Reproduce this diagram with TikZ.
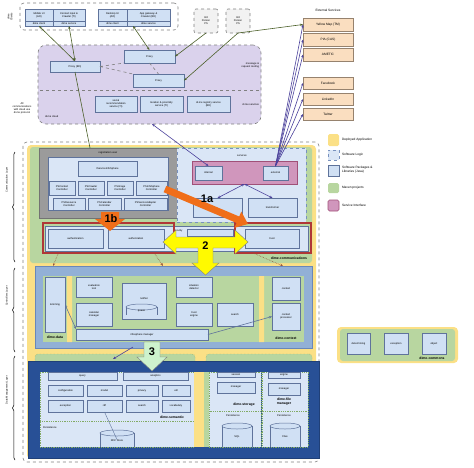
\documentclass[tikz,border=0pt]{standalone}
\usepackage{fontspec}
\setmainfont{Liberation Sans}
\usetikzlibrary{arrows.meta,decorations.pathreplacing}
\definecolor{pkgf}{RGB}{208,224,244}
\definecolor{pkgd}{RGB}{95,115,155}
\definecolor{logf}{RGB}{218,230,246}
\definecolor{logd}{RGB}{120,145,190}
\definecolor{depf}{RGB}{251,224,134}
\definecolor{mavf}{RGB}{184,214,160}
\definecolor{mavd}{RGB}{130,170,100}
\definecolor{iff}{RGB}{208,150,188}
\definecolor{ifd}{RGB}{160,80,120}
\definecolor{cloudf}{RGB}{218,210,236}
\definecolor{extf}{RGB}{250,222,192}
\definecolor{extd}{RGB}{150,130,110}
\definecolor{redd}{RGB}{175,55,55}
\definecolor{grayf}{RGB}{155,155,155}
\definecolor{grayd}{RGB}{115,115,115}
\definecolor{ctrlf}{RGB}{146,176,214}
\definecolor{ctrld}{RGB}{105,135,185}
\definecolor{dataf}{RGB}{40,80,150}
\definecolor{orng}{RGB}{240,110,25}
\definecolor{yarr}{RGB}{255,250,0}
\definecolor{garrf}{RGB}{205,242,205}
\definecolor{gline}{RGB}{75,95,40}
\definecolor{pline}{RGB}{75,65,155}
\definecolor{dotl}{RGB}{150,85,60}
\newcommand\ft{\fontsize{2.6}{3.0}\selectfont}
\newcommand\ftl{\fontsize{3.2}{3.7}\selectfont}
\newcommand\ftb{\fontsize{3.4}{3.8}\selectfont\bfseries}
\newcommand\ftbig{\fontsize{11}{11}\selectfont\bfseries}
\newcommand\bx[7][]{\node[#1,minimum width={(#5-#3)*1pt},minimum height={(#6-#4)*1pt}] (#2) at ({(#3+#5)/2},{(#4+#6)/2}) {#7};}
\newcommand\cyl[6]{%
 \fill[pkgf] (#2,{#3+3}) rectangle (#4,#5);
 \draw[pkgd,line width=0.5pt] (#2,{#3+3}) -- (#2,#5) (#4,{#3+3}) -- (#4,#5);
 \draw[pkgd,fill=pkgf,line width=0.5pt] ({(#2+#4)/2},{#3+3}) ellipse [x radius={(#4-#2)/2}, y radius=3];
 \node (#1) at ({(#2+#4)/2},{(#3+#5)/2+2}) {#6};}
\begin{document}
\begin{tikzpicture}[x=1pt,y=-1pt,
 every node/.style={inner sep=0pt,outer sep=0pt,font=\ft,align=center},
 pkg/.style={draw=pkgd,fill=pkgf,line width=0.5pt},
 logic/.style={draw=logd,fill=logf,dashed,line width=0.5pt},
 logicg/.style={draw=mavd,fill=logf,densely dotted,line width=0.8pt},
 deploy/.style={fill=depf,rounded corners=4pt},
 maven/.style={fill=mavf,rounded corners=3pt},
 iface/.style={draw=ifd,fill=iff,line width=0.6pt},
 dashbox/.style={draw=gray,dashed,line width=0.6pt,rounded corners=4pt},
 extbox/.style={draw=extd,fill=extf,line width=0.6pt,font=\ftl},
 redfr/.style={draw=redd,line width=2.4pt},
 garr/.style={draw=gline,line width=0.6pt},
 parr/.style={draw=pline,line width=0.6pt},
 tip/.style={-{Stealth[length=3pt,width=2.4pt]}},
 btip/.style={{Stealth[length=3pt,width=2.4pt]}-{Stealth[length=3pt,width=2.4pt]}},
 leg/.style={font=\ftl,anchor=west,align=left},
 mlbl/.style={font=\ftb},
 big/.style={font=\ftbig}
]
\useasboundingbox (0,0) rectangle (474,467);
% ---------- clients ----------
\bx[dashbox,fill=white]{clients}{20}{3}{178}{30}{}
\node[rotate=90] (clientslbl) at (10,17) {dime\\Clients};
\bx[pkg]{mob}{25}{9}{53}{21}{Mobile UI\\(AO)}
\bx[pkg]{ctx}{53}{9}{85}{21}{Context input \&\\Crawler (TI)}
\bx[pkg]{dc1}{25}{21}{53}{26}{dime client}
\bx[pkg]{ds1}{53}{21}{85}{26}{dime service}
\bx[pkg]{desk}{98}{9}{127}{21}{Desktop UI\\(AO)}
\bx[pkg]{gw}{127}{9}{170}{21}{App gateway \&\\Crawler (BD)}
\bx[pkg]{dc2}{98}{21}{127}{26}{dime client}
\bx[pkg]{ds2}{127}{21}{170}{26}{dime service}
\bx[dashbox,fill=black!5,rounded corners=2pt]{p3a}{194}{9}{218}{33}{3rd\\Person\\PS}
\bx[dashbox,fill=black!5,rounded corners=2pt]{p3b}{226}{9}{250}{33}{3rd\\Person\\PS}
% ---------- external ----------
\node[font=\ftl] (exttitle) at (328,10) {External Services};
\bx[extbox]{ym}{303}{18}{353}{31}{Yellow Map (TM)}
\bx[extbox]{pia}{303}{33}{353}{46}{PIA (CAS)}
\bx[extbox]{ametic}{303}{48}{353}{61}{AMETIC}
\bx[extbox]{fb}{303}{77}{353}{89}{Facebook}
\bx[extbox]{li}{303}{93}{353}{105}{LinkedIn}
\bx[extbox]{tw}{303}{108}{353}{120}{Twitter}
% ---------- cloud ----------
\bx[dashbox,fill=cloudf,rounded corners=8pt]{cloud}{38}{45}{261}{124}{}
\draw[gray,dashed,line width=0.5pt] (40,90) -- (259,90);
\node[anchor=east,align=right] (routing) at (259,65) {message \&\\request routing};
\node[anchor=east] (dsvc) at (259,105) {di.me services};
\node[anchor=west] (dcloud) at (45,117) {di.me cloud};
\node (allcomm) at (22,108) {All\\communications\\with cloud use\\di.me protocol};
\bx[pkg]{pbd}{50}{61}{100}{72}{Proxy (BD)}
\bx[pkg]{ptop}{124}{50}{175}{63}{Proxy}
\bx[pkg]{plow}{133}{74}{184}{87}{Proxy}
\draw[gray,dashed,line width=0.6pt] (pbd.east) -- (ptop.south west) (pbd.east) -- (plow.north west) (ptop.south) -- (plow.north);
\bx[pkg]{soc}{95}{96}{137}{112}{social\\recommendation\\service (TI)}
\bx[pkg]{loc}{140}{96}{183}{112}{location \& proximity\\service (TI)}
\bx[pkg]{reg}{187}{96}{230}{112}{di.me registry service\\(BD)}
% ---------- main deployed area ----------
\bx[dashbox]{main}{23}{142}{319}{462}{}
\bx[deploy]{app}{27}{145}{316}{459}{}
\bx[maven]{commmvn}{30}{147}{312}{263}{}
% registration
\bx[draw=grayd,fill=grayf,line width=1pt]{regbox}{39}{148}{177}{218}{}
\node (regttl) at (108,153) {registration user};
\bx[pkg,fill=logf]{regin}{48}{157}{168}{210}{}
\bx[pkg]{isis}{78}{161}{137}{176}{IServiceInfoSphere}
\bx[pkg]{psctx}{49}{181}{75}{195}{PSContext\\Controller}
\bx[pkg]{pscr}{78}{181}{104}{195}{PSCrawler\\Controller}
\bx[pkg]{psimg}{107}{181}{133}{195}{PSImage\\Controller}
\bx[pkg]{psinf}{136}{181}{167}{195}{PSInfoSphere\\Controller}
\bx[pkg]{psres}{53}{198}{85}{210}{PSResource\\Controller}
\bx[pkg]{pscal}{88}{198}{121}{210}{PSCalendar\\Controller}
\bx[pkg]{pssa}{124}{198}{167}{210}{PSServiceAdapter\\Controller}
% services
\bx[logic]{svc}{177}{148}{306}{222}{}
\node (svcttl) at (242,156) {services};
\bx[iface]{svcif}{192}{161}{297}{184}{}
\bx[pkg]{internal}{195}{166}{222}{180}{internal}
\bx[pkg]{external}{263}{166}{288}{180}{external}
\bx[pkg]{svcl}{193}{198}{242}{217}{}
\bx[pkg]{transf}{248}{198}{297}{217}{transformer}
\draw[parr,btip] (svcif.south) -- (svcl.north);
\draw[parr,btip] (svcif.south) -- (transf.north);
% security
\bx[pkg,fill=logf]{sec}{45}{226}{308}{251}{}
\node (secttl) at (178,231) {security};
\bx[pkg]{authn}{48}{229}{103}{248}{authentication}
\bx[pkg]{authz}{108}{229}{164}{248}{authorization}
\bx[pkg]{secmid}{187}{229}{233}{236}{}
\bx[pkg]{trust}{245}{229}{299}{248}{trust}
\bx[redfr]{redl}{43}{223}{174}{253}{}
\bx[redfr]{redr}{235}{223}{311}{253}{}
\node[mlbl,anchor=east] (commlbl) at (307,258) {dime-communications};
% ---------- controllers ----------
\bx[draw=ctrld,fill=ctrlf,line width=1pt]{ctrl}{35}{266}{312}{348}{}
\bx[fill=mavf]{ctrlg}{43}{276}{304}{342}{}
\fill[depf] (67,276) rectangle (72,342) (259,276) rectangle (264,342);
\bx[pkg]{lemming}{45}{277}{65}{332}{lemming}
\node[mlbl] (ddata) at (55,337) {dime-data};
\bx[pkg]{eval}{76}{277}{112}{297}{evaluation\\tool}
\bx[pkg]{calm}{76}{303}{112}{326}{calendar\\manager}
\bx[pkg]{notif}{122}{283}{166}{319}{}
\node (notiflbl) at (144,299) {notifier};
\cyl{queue}{126}{304}{157}{315}{queue}
\bx[pkg]{sitd}{176}{277}{212}{297}{situation\\detector}
\bx[pkg]{trusteng}{176}{303}{212}{326}{trust\\engine}
\bx[pkg]{search}{217}{303}{253}{326}{search}
\bx[pkg]{ism}{76}{329}{208}{340}{infosphere manager}
\bx[pkg]{context}{272}{277}{300}{300}{context}
\bx[pkg]{ctxproc}{272}{303}{300}{330}{context\\processor}
\node[mlbl] (dctx) at (286,338) {dime-context};
\draw[draw=pkgd,line width=0.6pt,btip] (lemming.east) -- (ism.north west);
\draw[draw=pkgd,line width=0.6pt,tip] (ism.east) -- (ctxproc.west);
% ---------- data ----------
\bx[maven,draw=mavd,densely dotted]{semrim}{35}{354}{195}{366}{}
\bx[maven,draw=mavd,densely dotted]{storrim}{206}{354}{312}{366}{}
\bx[fill=dataf,draw=dataf!80!black]{data}{28}{361}{319}{458}{}
\bx[logicg]{sem}{40}{372}{194}{421}{}
\bx[logicg]{sempers}{40}{421}{194}{447}{}
\fill[depf] (194,372) rectangle (204,447);
\fill[mavf] (204,372) rectangle (209,447);
\bx[logicg]{stor}{209}{372}{261}{411}{}
\bx[logicg]{storpers}{209}{411}{261}{447}{}
\bx[logicg]{fm}{262}{372}{308}{411}{}
\bx[logicg]{fmpers}{262}{411}{308}{447}{}
\bx[pkg]{query}{48}{372}{117}{380}{query}
\bx[pkg]{analytics}{123}{372}{188}{380}{analytics}
\bx[pkg]{config}{48}{385}{83}{396}{configuration}
\bx[pkg]{model}{87}{385}{122}{396}{model}
\bx[pkg]{privacy}{126}{385}{158}{396}{privacy}
\bx[pkg]{util}{162}{385}{190}{396}{util}
\bx[pkg]{exc}{48}{400}{83}{412}{exception}
\bx[pkg]{rdf}{87}{400}{122}{412}{rdf}
\bx[pkg]{ssearch}{126}{400}{158}{412}{search}
\bx[pkg]{vocab}{162}{400}{190}{412}{vocabulary}
\node[mlbl] (semlbl) at (172,417) {dime-semantic};
\node[anchor=west] (pers1) at (43,428) {Persistence};
\cyl{rdfstore}{100}{430}{134}{447}{RDF Store}
\draw[pkgd,line width=0.4pt] (rdf.south) -- (rdfstore.north);
\bx[pkg]{session}{217}{372}{255}{377}{session}
\bx[pkg]{smgr}{217}{382}{255}{393}{manager}
\node[mlbl] (storlbl) at (244,405) {dime-storage};
\node (pers2) at (233,416) {Persistence};
\cyl{sql}{222}{423}{252}{447}{SQL}
\bx[pkg]{engine}{268}{372}{300}{378}{engine}
\bx[pkg]{fmgr}{268}{383}{300}{395}{manager}
\node[mlbl] (fmlbl) at (284,402) {dime-file\\manager};
\node (pers3) at (284,416) {Persistence};
\cyl{files}{270}{423}{300}{447}{Files}
% ---------- connectors ----------
\coordinate (c1) at (133,26);
\coordinate (regtop) at (90,148);
\coordinate (cloudb) at (152,124);
\draw[garr,btip] (dc1.south) -- (pbd.north);
\draw[garr,btip] (ds1.south) -- (pbd.north);
\draw[garr,btip] (c1) -- (ptop.north);
\draw[garr,tip] (p3a.south) -- (ptop.east);
\draw[garr,tip] (p3b.south) -- (plow.east);
\draw[garr,tip] (p3b.south) -- (ym.west);
\draw[garr] (pbd.south) -- (regtop);
\draw[parr,btip] (cloudb) -- (internal.north);
\foreach \n in {ym,pia,ametic,fb,li,tw}{\draw[parr,tip] (external.north) -- (\n.west);}
\coordinate (d1) at (58,254); \coordinate (d1e) at (53,266);
\coordinate (d2) at (155,254); \coordinate (d2e) at (163,266);
\coordinate (d3) at (253,253); \coordinate (d3e) at (283,266);
\draw[dotl,densely dotted,line width=0.6pt,tip] (d1) -- (d1e);
\draw[dotl,densely dotted,line width=0.6pt,tip] (d2) -- (d2e);
\draw[dotl,densely dotted,line width=0.6pt,tip] (d3) -- (d3e);
\coordinate (e1) at (133,347); \coordinate (e2) at (113,359);
\draw[parr,tip] (e1) -- (e2);
% ---------- big arrows ----------
\coordinate (o1) at (165,189); \coordinate (o2) at (248,224);
\draw[orng,line width=7pt,-{Triangle[length=11pt,width=17pt]}] (o1) -- (o2);
\node[big] (l1a) at (207,199) {1a};
\fill[orng] (101,212) -- (119,212) -- (119,219) -- (125,219) -- (110,231) -- (95,219) -- (101,219) -- cycle;
\node[big] (l1b) at (111,219) {1b};
\filldraw[fill=yarr,draw=gray,line width=0.4pt] (163,242) -- (176,230) -- (176,237) -- (235,237) -- (235,230) -- (248,242) -- (235,254) -- (235,248) -- (213,248) -- (213,263) -- (219,263) -- (205.5,275) -- (192,263) -- (198,263) -- (198,248) -- (176,248) -- (176,254) -- cycle;
\node[big] (l2) at (205.5,246) {2};
\filldraw[fill=garrf,draw=gray,line width=0.4pt] (144,342) -- (160,342) -- (160,357) -- (167,357) -- (152,371) -- (137,357) -- (144,357) -- cycle;
\node[big] (l3) at (152,352) {3};
% ---------- layer labels ----------
\node[rotate=90] (lcomm) at (7,180) {Communication Layer};
\draw[decorate,decoration={brace,amplitude=2.5pt},line width=0.5pt] (15,262) -- (15,152);
\node[rotate=90] (lctrl) at (7,296) {Controllers Layer};
\draw[decorate,decoration={brace,amplitude=2.5pt},line width=0.5pt] (15,352) -- (15,268);
\node[rotate=90] (ldata) at (7,390) {Data Management Layer};
\draw[decorate,decoration={brace,amplitude=2.5pt},line width=0.5pt] (15,460) -- (15,356);
% ---------- legend ----------
\bx[deploy,rounded corners=1.5pt]{lg1}{328}{134}{339}{146}{}
\node[leg] (lt1) at (342,140) {Deployed Application};
\bx[logic]{lg2}{328}{150}{339}{160}{}
\node[leg] (lt2) at (342,155) {Software Logic};
\bx[pkg,line width=0.8pt]{lg3}{328}{165}{339}{176}{}
\node[leg] (lt3) at (342,170) {Software Packages \&\\Libraries (Java)};
\bx[maven,rounded corners=1.5pt]{lg4}{328}{183}{339}{193}{}
\node[leg] (lt4) at (342,188) {Maven projects};
\bx[iface,rounded corners=1.5pt]{lg5}{328}{200}{339}{211}{}
\node[leg] (lt5) at (342,205) {Service Interface};
% ---------- dime-commons ----------
\bx[deploy]{cmy}{337}{327}{458}{363}{}
\bx[maven]{cmg}{340}{329}{455}{361}{}
\bx[pkg]{determ}{347}{333}{370}{354}{determining}
\bx[pkg]{cexc}{384}{333}{408}{354}{exception}
\bx[pkg]{cobj}{422}{333}{446}{354}{object}
\node[mlbl] (cmlbl) at (432,358.5) {dime-commons};
\end{tikzpicture}
\end{document}
